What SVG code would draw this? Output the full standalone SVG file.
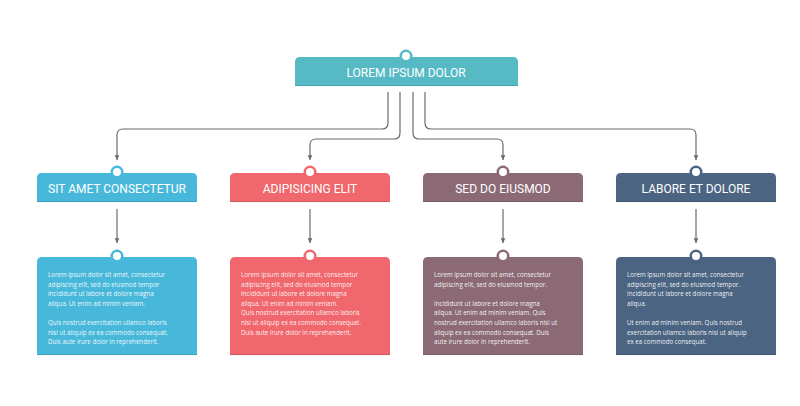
<svg xmlns="http://www.w3.org/2000/svg" width="800" height="406" viewBox="0 0 800 406">
<defs>
<style>
.hd{font-family:Roboto,"Liberation Sans",sans-serif;font-size:12px;fill:#fff;text-anchor:middle}
.bt{font-family:"Open Sans","Liberation Sans",sans-serif;font-size:6.2px;fill:#fff;fill-opacity:0.93}
.ln{fill:none;stroke:#6b6b6b;stroke-width:1.2}
.sh{fill:#000;fill-opacity:0.12}
.dot{fill:#fff}
.c0{fill:#56bac5}.c1{fill:#48b8da}.c2{fill:#f0676d}.c3{fill:#8b6a76}.c4{fill:#4b6482}
</style>
<marker id="ar" viewBox="0 0 8 8" refX="7" refY="4" markerWidth="6" markerHeight="6" markerUnits="userSpaceOnUse" orient="auto">
<path d="M0.5,0.8 L7,4 L0.5,7.2 Z" fill="#6b6b6b"/>
</marker>
</defs>
<rect width="800" height="406" fill="#fff"/>

<g id="connectors">
<path class="ln" marker-end="url(#ar)" d="M388,92 V123 Q388,129 382,129 H123 Q117,129 117,135 V160"/>
<path class="ln" marker-end="url(#ar)" d="M400,92 V133 Q400,139 394,139 H316 Q310,139 310,145 V160"/>
<path class="ln" marker-end="url(#ar)" d="M413,92 V133 Q413,139 419,139 H497 Q503,139 503,145 V160"/>
<path class="ln" marker-end="url(#ar)" d="M425,92 V123 Q425,129 431,129 H690 Q696,129 696,135 V160"/>
<path class="ln" marker-end="url(#ar)" d="M117,209 V243"/>
<path class="ln" marker-end="url(#ar)" d="M310,209 V243"/>
<path class="ln" marker-end="url(#ar)" d="M503,209 V243"/>
<path class="ln" marker-end="url(#ar)" d="M696,209 V243"/>
</g>

<g id="root">
<path class="c0" d="M295,86 V62 Q295,57 300,57 H513 Q518,57 518,62 V86 Z"/>
<rect class="sh" x="295" y="85" width="223" height="1.2"/>
<circle class="c0" cx="406" cy="56" r="6.5"/>
<circle class="dot" cx="406" cy="56" r="4"/>
<text class="hd" x="406" y="77">LOREM IPSUM DOLOR</text>
</g>

<g id="h1">
<path class="c1" d="M37,202 V178 Q37,173 42,173 H192 Q197,173 197,178 V202 Z"/>
<rect class="sh" x="37" y="201" width="160" height="1.2"/>
<circle class="c1" cx="117" cy="172" r="6.5"/>
<circle class="dot" cx="117" cy="172" r="4"/>
<text class="hd" x="117" y="193">SIT AMET CONSECTETUR</text>
</g>
<g id="h2">
<path class="c2" d="M230,202 V178 Q230,173 235,173 H385 Q390,173 390,178 V202 Z"/>
<rect class="sh" x="230" y="201" width="160" height="1.2"/>
<circle class="c2" cx="310" cy="172" r="6.5"/>
<circle class="dot" cx="310" cy="172" r="4"/>
<text class="hd" x="310" y="193">ADIPISICING ELIT</text>
</g>
<g id="h3">
<path class="c3" d="M423,202 V178 Q423,173 428,173 H578 Q583,173 583,178 V202 Z"/>
<rect class="sh" x="423" y="201" width="160" height="1.2"/>
<circle class="c3" cx="503" cy="172" r="6.5"/>
<circle class="dot" cx="503" cy="172" r="4"/>
<text class="hd" x="503" y="193">SED DO EIUSMOD</text>
</g>
<g id="h4">
<path class="c4" d="M616,202 V178 Q616,173 621,173 H771 Q776,173 776,178 V202 Z"/>
<rect class="sh" x="616" y="201" width="160" height="1.2"/>
<circle class="c4" cx="696" cy="172" r="6.5"/>
<circle class="dot" cx="696" cy="172" r="4"/>
<text class="hd" x="696" y="193">LABORE ET DOLORE</text>
</g>

<g id="b1">
<path class="c1" d="M37,355 V262 Q37,257 42,257 H192 Q197,257 197,262 V355 Z"/>
<rect class="sh" x="37" y="354" width="160" height="1.2"/>
<circle class="c1" cx="117" cy="256" r="6.5"/>
<circle class="dot" cx="117" cy="256" r="4"/>
<text class="bt" x="48" y="277">Lorem ipsum dolor sit amet, consectetur</text>
<text class="bt" x="48" y="286.6">adipiscing elit, sed do eiusmod tempor</text>
<text class="bt" x="48" y="296.2">incididunt ut labore et dolore magna</text>
<text class="bt" x="48" y="305.8">aliqua. Ut enim ad minim veniam.</text>
<text class="bt" x="48" y="325">Quis nostrud exercitation ullamco laboris</text>
<text class="bt" x="48" y="334.6">nisi ut aliquip ex ea commodo consequat.</text>
<text class="bt" x="48" y="344.2">Duis aute irure dolor in reprehenderit.</text>
</g>
<g id="b2">
<path class="c2" d="M230,355 V262 Q230,257 235,257 H385 Q390,257 390,262 V355 Z"/>
<rect class="sh" x="230" y="354" width="160" height="1.2"/>
<circle class="c2" cx="310" cy="256" r="6.5"/>
<circle class="dot" cx="310" cy="256" r="4"/>
<text class="bt" x="241" y="277">Lorem ipsum dolor sit amet, consectetur</text>
<text class="bt" x="241" y="286.6">adipiscing elit, sed do eiusmod tempor</text>
<text class="bt" x="241" y="296.2">incididunt ut labore et dolore magna</text>
<text class="bt" x="241" y="305.8">aliqua. Ut enim ad minim veniam.</text>
<text class="bt" x="241" y="315.4">Quis nostrud exercitation ullamco laboris</text>
<text class="bt" x="241" y="325">nisi ut aliquip ex ea commodo consequat.</text>
<text class="bt" x="241" y="334.6">Duis aute irure dolor in reprehenderit.</text>
</g>
<g id="b3">
<path class="c3" d="M423,355 V262 Q423,257 428,257 H578 Q583,257 583,262 V355 Z"/>
<rect class="sh" x="423" y="354" width="160" height="1.2"/>
<circle class="c3" cx="503" cy="256" r="6.5"/>
<circle class="dot" cx="503" cy="256" r="4"/>
<text class="bt" x="434" y="277">Lorem ipsum dolor sit amet, consectetur</text>
<text class="bt" x="434" y="286.6">adipiscing elit, sed do eiusmod tempor.</text>
<text class="bt" x="434" y="305.8">Incididunt ut labore et dolore magna</text>
<text class="bt" x="434" y="315.4">aliqua. Ut enim ad minim veniam. Quis</text>
<text class="bt" x="434" y="325">nostrud exercitation ullamco laboris nisi ut</text>
<text class="bt" x="434" y="334.6">aliquip ex ea commodo consequat. Duis</text>
<text class="bt" x="434" y="344.2">aute irure dolor in reprehenderit.</text>
</g>
<g id="b4">
<path class="c4" d="M616,355 V262 Q616,257 621,257 H771 Q776,257 776,262 V355 Z"/>
<rect class="sh" x="616" y="354" width="160" height="1.2"/>
<circle class="c4" cx="696" cy="256" r="6.5"/>
<circle class="dot" cx="696" cy="256" r="4"/>
<text class="bt" x="627" y="277">Lorem ipsum dolor sit amet, consectetur</text>
<text class="bt" x="627" y="286.6">adipiscing elit, sed do eiusmod tempor.</text>
<text class="bt" x="627" y="296.2">Incididunt ut labore et dolore magna</text>
<text class="bt" x="627" y="305.8">aliqua.</text>
<text class="bt" x="627" y="325">Ut enim ad minim veniam. Quis nostrud</text>
<text class="bt" x="627" y="334.6">exercitation ullamco laboris nisi ut aliquip</text>
<text class="bt" x="627" y="344.2">ex ea commodo consequat.</text>
</g>
</svg>
